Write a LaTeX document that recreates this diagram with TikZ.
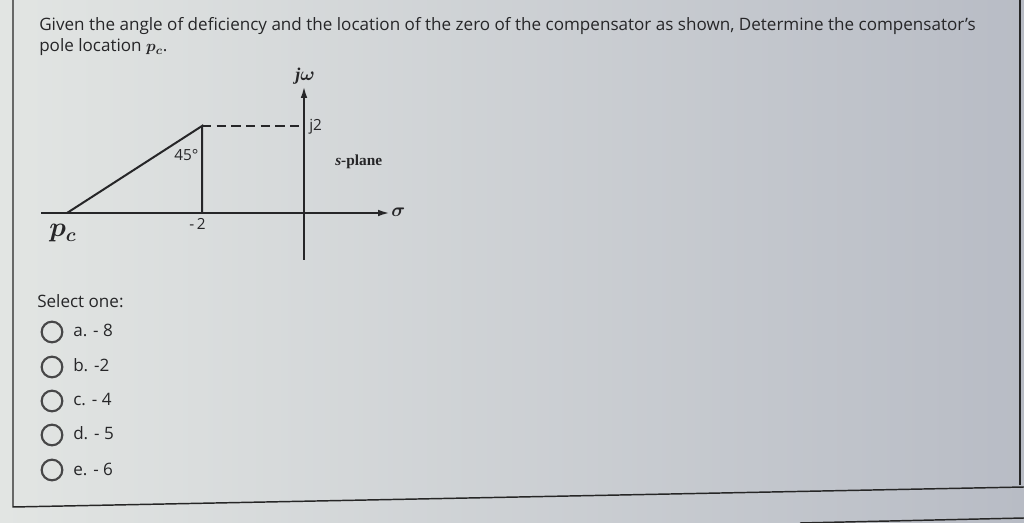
\documentclass[tikz,border=0pt]{standalone}
\usepackage{amsmath}
\usepackage{bm}
\usepackage{fontspec}
\setmainfont{Open Sans}
\newfontfamily\lblserif{Liberation Serif}
\usetikzlibrary{arrows.meta}
\definecolor{inkc}{RGB}{38,38,40}
\definecolor{bgleft}{RGB}{226,229,227}
\definecolor{bgright}{RGB}{184,188,197}
\begin{document}
\begin{tikzpicture}[x=0.75pt,y=-0.75pt,
  txt/.style={inner sep=0pt,anchor=base west,text=inkc,font=\fontsize{12.8pt}{16pt}\selectfont},
  lbl/.style={inner sep=0pt,anchor=base west,text=inkc,font=\lblserif\fontsize{11pt}{13pt}\selectfont},
  sanslbl/.style={inner sep=0pt,anchor=base west,text=inkc,font=\fontsize{11.5pt}{13pt}\selectfont},
  axis/.style={draw=inkc,line width=1.6pt},
  fig/.style={draw=inkc,line width=1.5pt},
  frame/.style={draw=black!85,line width=1.1pt},
  radio/.style={circle,draw=inkc!85,line width=1.6pt,minimum size=15.5pt,inner sep=0pt}]
\useasboundingbox (0,0) rectangle (1024,523);
\shade[left color=bgleft,right color=bgright] (0,0) rectangle (1024,523);
% frame
\coordinate (fTL) at (13,0);
\coordinate (fBL) at (13,507);
\coordinate (fBR) at (1024,487);
\coordinate (fTR) at (1020,0);
\coordinate (fRB) at (1020,485);
\draw[frame] (fTL) -- (fBL) -- (fBR);
\draw[frame] (fTR) -- (fRB);
\coordinate (gA) at (800,523);
\coordinate (gB) at (1024,518);
\draw[frame] (gA) -- (gB);
% title
\node[txt] (t1) at (39,31) {Given the angle of deficiency and the location of the zero of the compensator as shown, Determine the compensator{\char"27}s};
\node[txt] (t2) at (39,52) {pole location $\bm{p_c}$.};
% axes
\coordinate (xs) at (41,213);
\coordinate (xe) at (390,213);
\coordinate (ys) at (304,260);
\coordinate (ye) at (304,86);
\draw[axis,-{Latex[length=9pt,width=5pt]}] (xs) -- (xe);
\draw[axis,-{Latex[length=9pt,width=5pt]}] (ys) -- (ye);
% geometry
\coordinate (pc) at (67,213);
\coordinate (zb) at (202,213);
\coordinate (zt) at (202,126);
\coordinate (jt) at (304,126);
\draw[fig] (pc) -- (zt) -- (zb);
\draw[draw=inkc,line width=1.1pt,dash pattern=on 7pt off 4pt] (zt) -- (jt);
% labels
\node[lbl,font=\lblserif\bfseries\itshape\fontsize{13.5pt}{15pt}\selectfont] (jw) at (295,81) {j$\bm{\omega}$};
\node[lbl,font=\fontsize{15pt}{17pt}\selectfont] (sig) at (391,217) {$\bm{\sigma}$};
\node[sanslbl] (j2) at (309,131) {j2};
\node[sanslbl] (ang) at (174,161) {45°};
\node[sanslbl] (m2) at (189,230) {-\,2};
\node[lbl,font=\lblserif\bfseries\fontsize{11.5pt}{13pt}\selectfont] (sp) at (335,166) {\textit{s}-plane};
\node[lbl,font=\fontsize{20pt}{22pt}\selectfont] (pcl) at (49,237) {$\bm{p_c}$};
% options
\node[txt] (sel) at (37,308) {Select one:};
\node[radio] (ra) at (52,332) {};
\node[radio] (rb) at (52,367) {};
\node[radio] (rc) at (52,401) {};
\node[radio] (rd) at (52,435) {};
\node[radio] (re) at (52,470) {};
\node[txt] (oa) at (73,337) {a. - 8};
\node[txt] (ob) at (73,372) {b. -2};
\node[txt] (oc) at (73,406) {c. - 4};
\node[txt] (od) at (73,440) {d. - 5};
\node[txt] (oe) at (73,475) {e. - 6};
\end{tikzpicture}
\end{document}
